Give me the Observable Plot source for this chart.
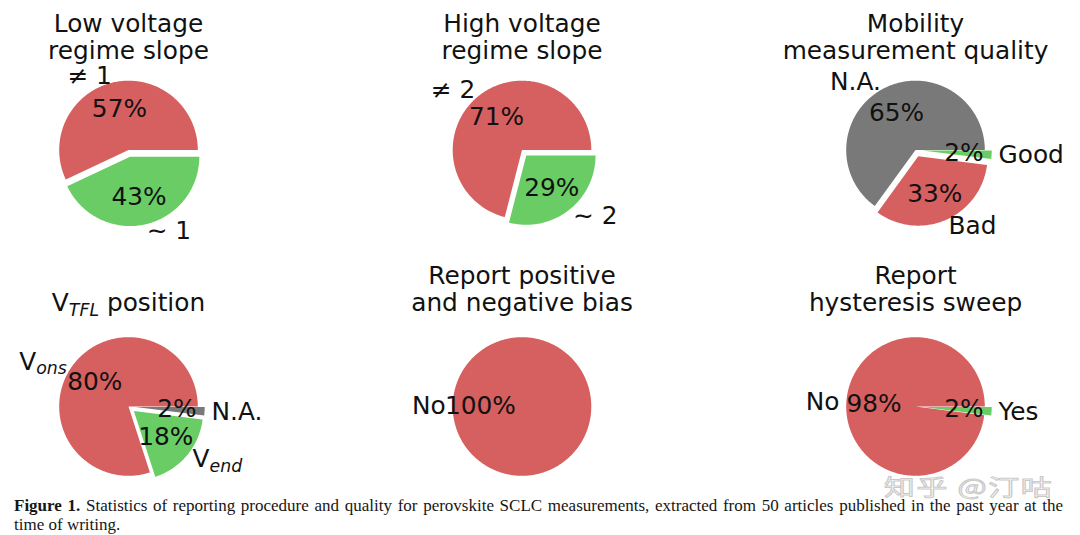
<!DOCTYPE html>
<html>
<head>
<meta charset="utf-8">
<script src="https://cdn.jsdelivr.net/npm/d3@7"></script>
<script src="https://cdn.jsdelivr.net/npm/@observablehq/plot@0.6"></script>
<style>
  html, body { margin: 0; padding: 0; background: #fff; }
  #wrap { position: relative; width: 1080px; height: 535px; overflow: hidden; background: #fff; }
  #chart { position: absolute; left: 0; top: 0; }
  .cap { position: absolute; left: 14px; font-family: "Liberation Serif", serif; font-size: 17px;
         line-height: 19px; color: #161616; white-space: nowrap; }
  #cap1 { top: 496px; }
  #cap2 { top: 515px; }
  #wm { position: absolute; left: 884px; top: 470px; font-family: "Noto Sans CJK SC", sans-serif;
        font-size: 22px; line-height: 30px; letter-spacing: 1.2px; color: rgba(255,255,255,0.6);
        -webkit-text-stroke: 1px rgba(165,165,165,0.6); white-space: nowrap;
        transform: scaleX(1.4); transform-origin: 0 0; }
</style>
</head>
<body>
<div id="wrap">
  <div id="chart"></div>
  <div id="cap1" class="cap"><b>Figure 1.</b> Statistics of reporting procedure and quality for perovskite SCLC measurements, extracted from 50 articles published in the past year at the</div>
  <div id="cap2" class="cap">time of writing.</div>
  <div id="wm">知乎 @汀咕</div>
</div>
<script>
// ---------- data ----------
const RED = "#d65f5f", GREEN = "#6acc64", GRAY = "#797979";
const titles = [
  "Low voltage\nregime slope",
  "High voltage\nregime slope",
  "Mobility\nmeasurement quality",
  "V_TFL position",
  "Report positive\nand negative bias",
  "Report\nhysteresis sweep"
];
const pieLabels = [["≠ 1", "∼ 1"], ["≠ 2", "∼ 2"], ["N.A.", "Bad", "Good"], ["V_ons", "V_end", "N.A."], ["No"], ["No", "Yes"]];
const pieValues = [[57, 43], [71, 29], [65, 33, 2], [80, 18, 2], [100], [98, 2]];
const pieColors = [[RED, GREEN], [RED, GREEN], [GRAY, RED, GREEN], [RED, GREEN, GRAY], [RED], [RED, GREEN]];
const pieExplode = [[0, 0.1], [0, 0.1], [0, 0.1, 0.1], [0, 0.1, 0.1], [0], [0, 0.1]];

// ---------- layout (pixels) ----------
const W = 1080, H = 490;
const R = 69.3;                       // pie radius in px
const col0 = 128, colStep = 393.5;    // first column centre, column step
const row0 = 149.5, rowStep = 256.5;  // first row centre, row step
const PAD = 0.5;
const FS = 24.8;
const bwX = colStep * (1 - PAD), bwY = rowStep * (1 - PAD);
const qX = (col0 - bwX / 2) / colStep, qY = (row0 - bwY / 2) / rowStep;
const fxEnd = colStep * (3 - PAD + 2 * qX), fyEnd = rowStep * (2 - PAD + 2 * qY);
const hx = (bwX / 2) / R, hy = (bwY / 2) / R;

// ---------- derived geometry (from the data) ----------
const wedgePts = [], wedges = [];
pieValues.forEach((vals, p) => {
  const total = d3.sum(vals);
  const col = p % 3, row = Math.floor(p / 3);
  let a0 = 0;
  vals.forEach((v, k) => {
    const a1 = a0 + 360 * v / total;
    const mid = (a0 + a1) / 2 * Math.PI / 180;
    const ex = pieExplode[p][k];
    const ox = ex * Math.cos(mid), oy = ex * Math.sin(mid);
    const id = p + "-" + k;
    const color = pieColors[p][k];
    if (v < total) wedgePts.push({id, col, row, color, x: ox, y: oy});
    const n = Math.max(2, Math.ceil(a1 - a0));
    for (let i = 0; i <= n; i++) {
      const t = (a0 + (a1 - a0) * i / n) * Math.PI / 180;
      wedgePts.push({id, col, row, color, x: ox + Math.cos(t), y: oy + Math.sin(t)});
    }
    wedges.push({
      col, row,
      pct: Math.round(100 * v / total) + "%",
      label: pieLabels[p][k],
      px: ox + 0.6 * Math.cos(mid), py: oy + 0.6 * Math.sin(mid),
      lx: ox + 1.1 * Math.cos(mid), ly: oy + 1.1 * Math.sin(mid),
      side: Math.cos(mid) > 0 ? "left" : "right"
    });
    a0 = a1;
  });
});
const titleData = titles.map((t, p) => ({col: p % 3, row: Math.floor(p / 3), text: t}));

const common = {fx: "col", fy: "row"};
const txt = {fontSize: FS, fill: "#111"};

const chart = Plot.plot({
  width: W, height: H,
  marginTop: 0, marginRight: 0, marginBottom: 0, marginLeft: 0,
  style: {fontFamily: "'DejaVu Sans', sans-serif", background: "white"},
  fx: {domain: [0, 1, 2], range: [0, fxEnd], paddingInner: PAD, paddingOuter: qX, round: false, axis: null, label: null},
  fy: {domain: [0, 1], range: [0, fyEnd], paddingInner: PAD, paddingOuter: qY, round: false, axis: null, label: null},
  x: {domain: [-hx, hx], range: [0, bwX], axis: null},
  y: {domain: [-hy, hy], range: [bwY, 0], axis: null},
  color: {type: "identity"},
  marks: [
    Plot.line(wedgePts, {...common, x: "x", y: "y", z: "id", fill: "color", stroke: null, curve: "linear"}),
    Plot.text(wedges, {...common, ...txt, x: "px", y: "py", text: "pct", textAnchor: "middle", lineAnchor: "middle"}),
    Plot.text(wedges.filter(d => d.side === "left"), {...common, ...txt, x: "lx", y: "ly", text: "label", textAnchor: "start", lineAnchor: "middle"}),
    Plot.text(wedges.filter(d => d.side === "right"), {...common, ...txt, x: "lx", y: "ly", text: "label", textAnchor: "end", lineAnchor: "middle"}),
    Plot.text(titleData.filter(d => d.row === 0), {...common, ...txt, text: "text", frameAnchor: "top", lineAnchor: "bottom", lineHeight: 1.10, dy: -27}),
    Plot.text(titleData.filter(d => d.row === 1), {...common, ...txt, text: "text", frameAnchor: "top", lineAnchor: "bottom", lineHeight: 1.10, dy: -31})
  ]
});
document.getElementById("chart").appendChild(chart);

// subscripts: "V_ons" -> V with italic subscript
chart.querySelectorAll("text").forEach(el => {
  if (el.children.length) return;
  const s = el.textContent;
  const m = s.match(/^(.*?)_(\w+)(.*)$/);
  if (!m) return;
  el.textContent = "";
  el.appendChild(document.createTextNode(m[1]));
  const ns = "http://www.w3.org/2000/svg";
  const sub = document.createElementNS(ns, "tspan");
  sub.setAttribute("font-style", "italic");
  sub.setAttribute("font-size", "70%");
  sub.setAttribute("dy", "4.6");
  sub.textContent = m[2];
  el.appendChild(sub);
  if (m[3]) {
    const rest = document.createElementNS(ns, "tspan");
    rest.setAttribute("dy", "-4.6");
    rest.textContent = m[3];
    el.appendChild(rest);
  }
});

// caption first line stretched to the measured width
function fitCaption() {
  const c = document.getElementById("cap1");
  c.style.wordSpacing = "0px";
  const w = c.getBoundingClientRect().width;
  const n = (c.textContent.match(/ /g) || []).length;
  c.style.wordSpacing = ((1049 - w) / n) + "px";
}
fitCaption();
if (document.fonts && document.fonts.ready) document.fonts.ready.then(fitCaption);
</script>
</body>
</html>
